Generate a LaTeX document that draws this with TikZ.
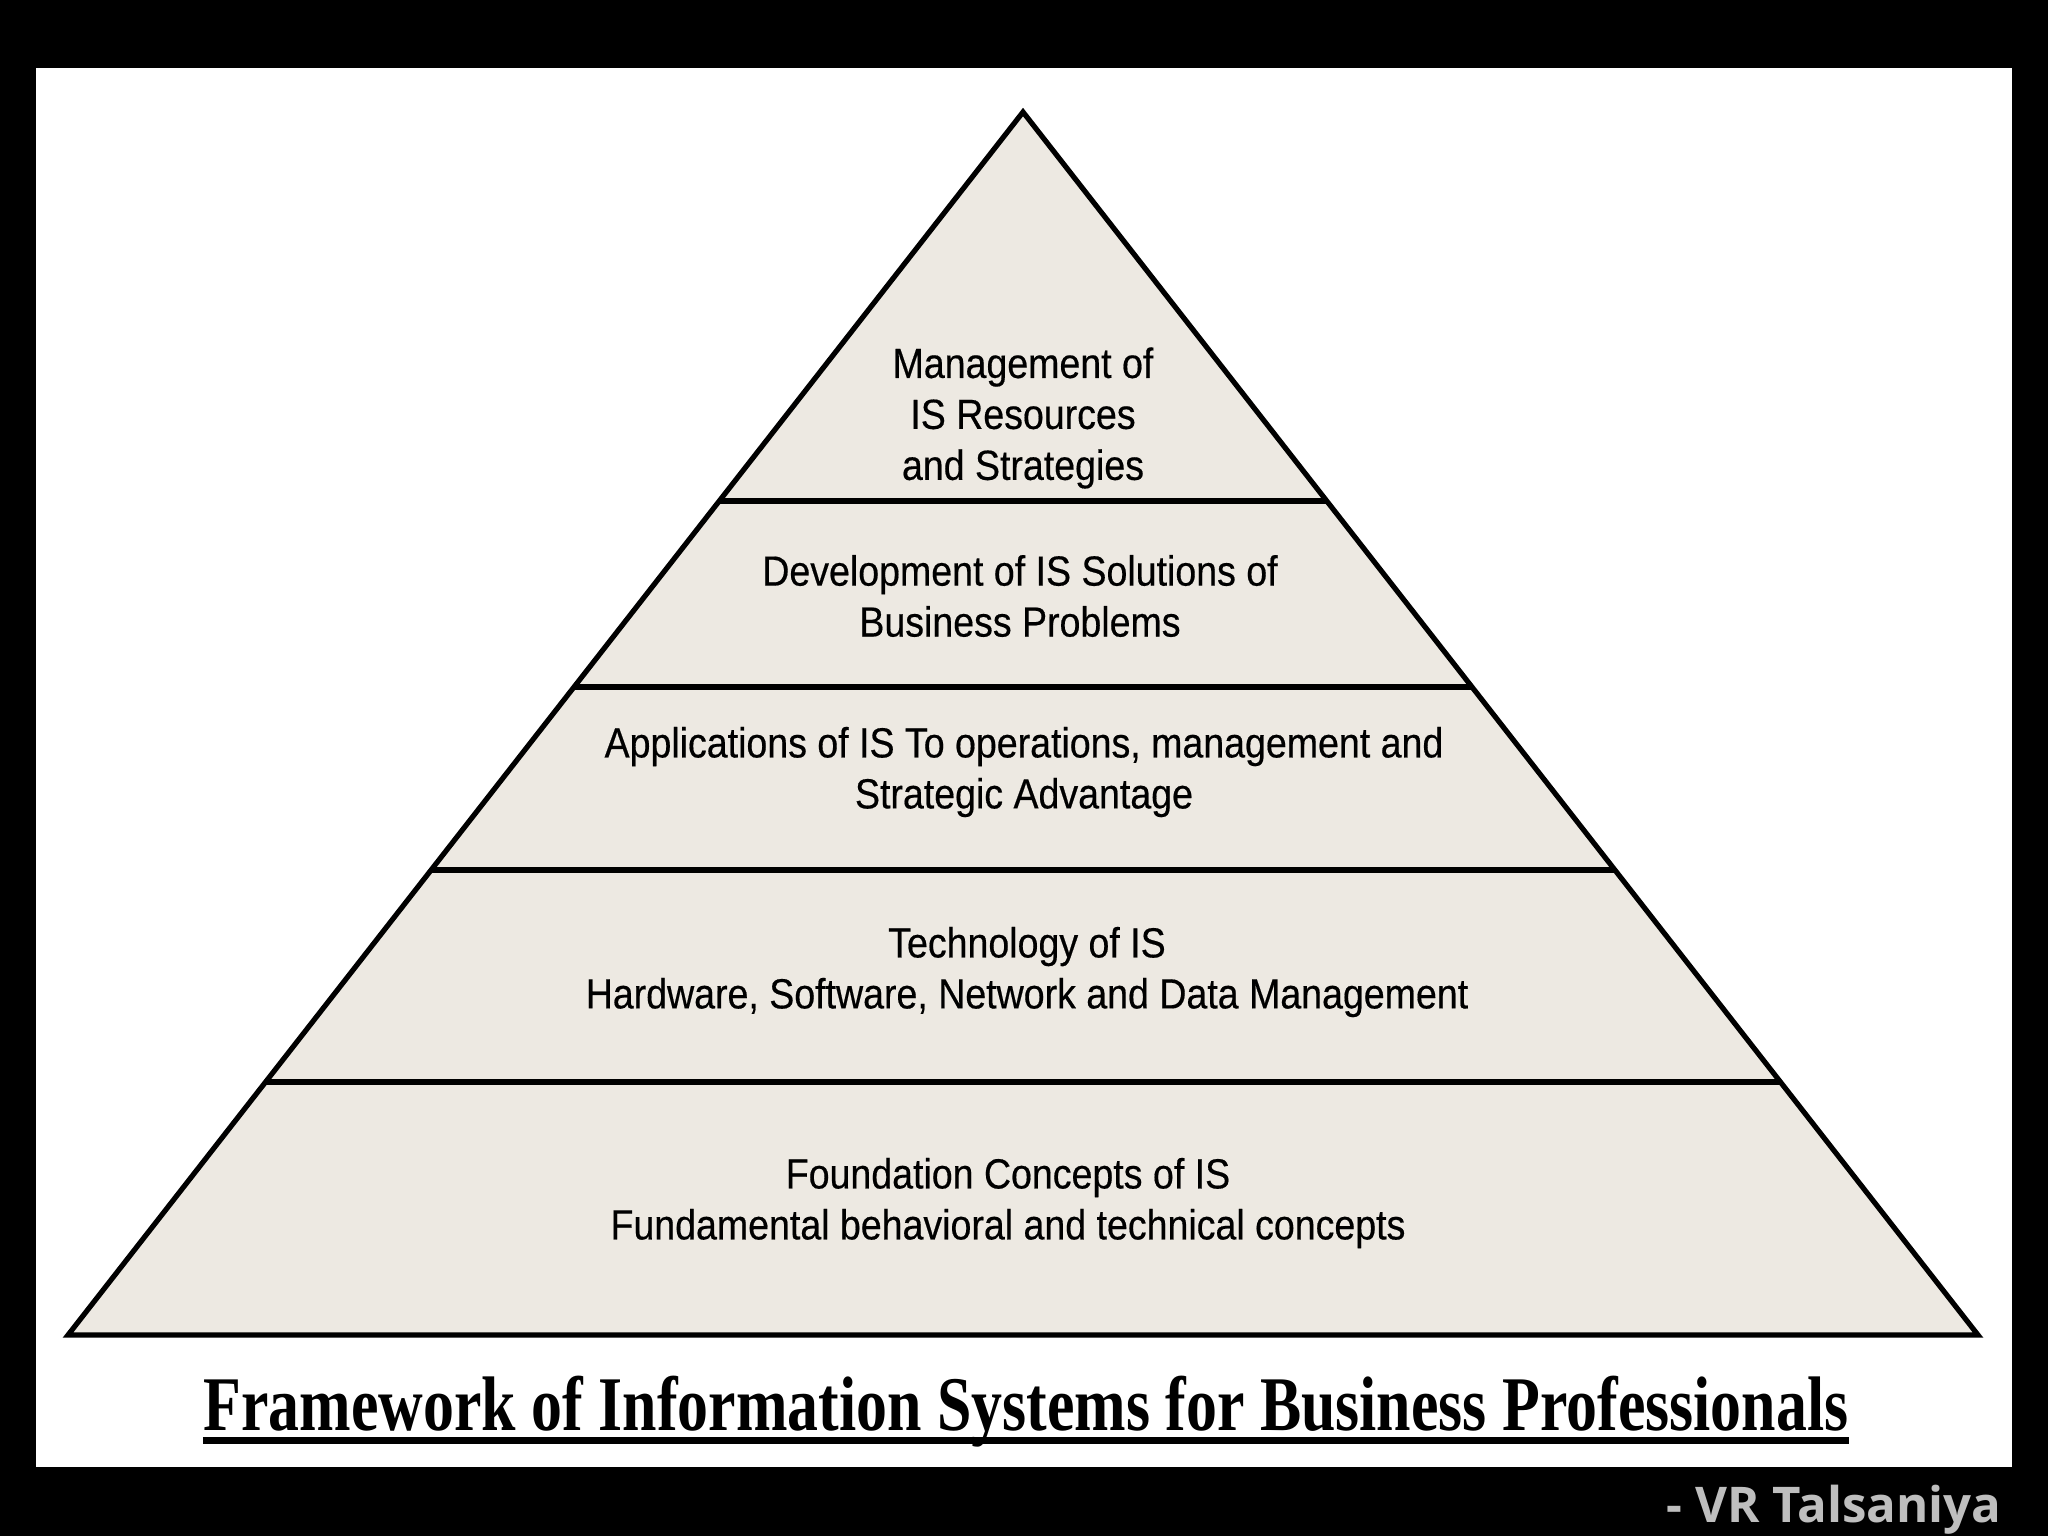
\documentclass[tikz,border=0pt]{standalone}
\usepackage{fontspec}
\setmainfont{Liberation Sans}
\newfontfamily\labelfont[FakeStretch=0.89, FakeBold=0.4]{Liberation Sans}
\newfontfamily\titlefont[FakeStretch=0.8]{Liberation Serif}
\newfontfamily\signfont{Open Sans}
\usetikzlibrary{calc}
\definecolor{pyrfill}{RGB}{237,233,226}
\definecolor{signgray}{RGB}{190,190,190}
\tikzset{
  layer/.style={font=\labelfont\fontsize{12}{14.5}\selectfont, align=center, inner sep=0pt},
  edge/.style={line width=0.52mm},
}

\begin{document}
\begin{tikzpicture}[x=0.1mm, y=-0.1mm]
  \useasboundingbox (0,0) rectangle (2048,1536);
  % frame
  \fill[black] (0,0) rectangle (2048,1536);
  \fill[white] (36,68) rectangle (2012,1467);
  % pyramid
  \coordinate (apex) at (1023,112);
  \coordinate (bl) at (68,1335);
  \coordinate (br) at (1978,1335);
  \filldraw[edge, fill=pyrfill] (apex) -- (br) -- (bl) -- cycle;
  % dividers
  \foreach \t [count=\i] in {0.3181,0.4702,0.6198,0.7931} {
    \coordinate (l\i) at ($(apex)!\t!(bl)$);
    \coordinate (r\i) at ($(apex)!\t!(br)$);
    \draw[edge] (l\i) -- (r\i);
  }
  % layer texts
  \node[layer] (mgmt) at (1023,418) {Management of\\IS Resources\\and Strategies};
  \node[layer] (dev) at (1020,596) {Development of IS Solutions of\\Business Problems};
  \node[layer] (apps) at (1024,772) {Applications of IS To operations, management and\\Strategic Advantage};
  \node[layer] (tech) at (1027,972) {Technology of IS\\Hardware, Software, Network and Data Management};
  \node[layer] (found) at (1008,1203) {Foundation Concepts of IS\\Fundamental behavioral and technical concepts};
  % title
  \node[font=\titlefont\bfseries\fontsize{22}{26}\selectfont, inner sep=0pt, anchor=base] (title) at (1026,1430)
    {Framework of Information Systems for Business Professionals};
  \draw[line width=2pt] ([yshift=-3.1pt]title.base west) -- ([yshift=-3.1pt]title.base east);
  % signature
  \node[font=\signfont\bfseries\fontsize{14}{17}\selectfont, text=signgray, anchor=base east, inner sep=0pt] (sign) at (2002,1522)
    {- VR Talsaniya};
\end{tikzpicture}
\end{document}
